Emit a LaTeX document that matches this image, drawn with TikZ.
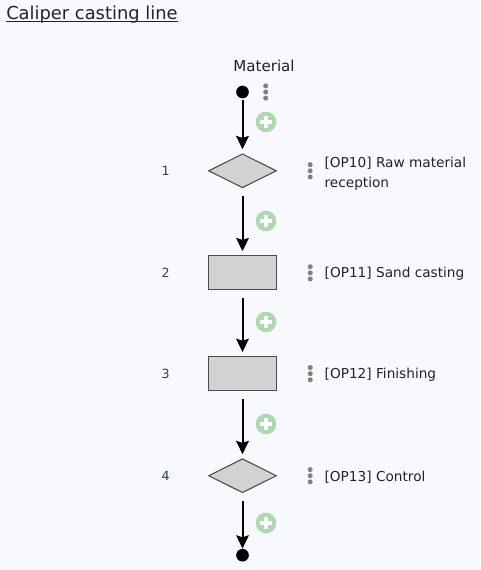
\documentclass[tikz,border=0pt]{standalone}
\usepackage{fontspec}
\usepackage{xcolor}
\setmainfont{DejaVu Sans}
\usetikzlibrary{arrows.meta, positioning, shapes.geometric}
\definecolor{pagebg}{RGB}{248,249,255}
\definecolor{opgray}{RGB}{210,210,210}
\definecolor{opedge}{RGB}{75,75,75}
\definecolor{addgreen}{RGB}{176,216,176}
\definecolor{menugray}{RGB}{130,130,130}
\definecolor{numcolor}{RGB}{50,60,80}
\definecolor{txtcolor}{RGB}{30,35,45}

\begin{document}
\begin{tikzpicture}[x=0.75pt, y=-0.75pt,
    opdiamond/.style={diamond, aspect=2, draw=opedge, fill=opgray, line width=0.8pt,
                  minimum width=51pt, minimum height=25.5pt, inner sep=0pt},
    oprect/.style={rectangle, draw=opedge, fill=opgray, line width=0.9pt,
                  minimum width=51pt, minimum height=25.5pt, inner sep=0pt},
    enddot/.style={circle, fill=black, minimum size=9.5pt, inner sep=0pt},
    flow/.style={-{Stealth[length=10pt, width=9.5pt, inset=1.5pt]}, line width=1.5pt, black, shorten <=6pt, shorten >=3pt},
    oplabel/.style={font=\fontsize{10.25pt}{15pt}\selectfont, text=txtcolor, align=left, inner sep=0pt},
    opnum/.style={font=\fontsize{9.5pt}{11pt}\selectfont, text=numcolor, inner sep=0pt},
    menu/.style={minimum width=4.5pt, minimum height=14pt, inner sep=0pt,
                  path picture={
                    \fill[menugray] ([yshift=4.6pt]path picture bounding box.center) circle (1.9pt);
                    \fill[menugray] (path picture bounding box.center) circle (1.9pt);
                    \fill[menugray] ([yshift=-4.6pt]path picture bounding box.center) circle (1.9pt);}},
    addbtn/.style={circle, fill=addgreen, minimum size=15.5pt, inner sep=0pt,
                  path picture={
                    \draw[white, line width=2.3pt] ([xshift=-4.6pt]path picture bounding box.center) -- ([xshift=4.6pt]path picture bounding box.center);
                    \draw[white, line width=2.3pt] ([yshift=-4.6pt]path picture bounding box.center) -- ([yshift=4.6pt]path picture bounding box.center);}}
]
\fill[pagebg] (0,0) rectangle (480,570);
\useasboundingbox (0,0) rectangle (480,570);

\node[anchor=base west, inner sep=0pt, text=txtcolor, font=\fontsize{13.4pt}{16pt}\selectfont] (title) at (6,20) {Caliper casting line};
\draw[txtcolor, line width=0.9pt] ([yshift=-1.2pt]title.base west) -- ([yshift=-1.2pt]title.base east);

% main line
\node[enddot] (start) at (242.5,92) {};
\node[opdiamond, below=41pt of start] (op1) {};
\node[oprect, below=50.2pt of op1] (op2) {};
\node[oprect, below=49.2pt of op2] (op3) {};
\node[opdiamond, below=50.2pt of op3] (op4) {};
\node[enddot, below=41.5pt of op4] (stop) {};

\node[oplabel, font=\fontsize{11.3pt}{15pt}\selectfont] (material) at (264,66) {Material};
\node[opnum, left=28.5pt of op1] (num1) {1};
\node[opnum, left=28.5pt of op2] (num2) {2};
\node[opnum, left=28.5pt of op3] (num3) {3};
\node[opnum, left=28.5pt of op4] (num4) {4};

\node[menu, right=10pt of start] (menu0) {};
\node[menu, right=22.4pt of op1] (menu1) {};
\node[menu, right=22.4pt of op2] (menu2) {};
\node[menu, right=22.4pt of op3] (menu3) {};
\node[menu, right=22.4pt of op4] (menu4) {};

\node[oplabel, right=8.2pt of menu1, yshift=-2pt] (text1) {[OP10] Raw material\\reception};
\node[oplabel, right=8.2pt of menu2, yshift=-1pt] (text2) {[OP11] Sand casting};
\node[oplabel, right=8.2pt of menu3, yshift=-1pt] (text3) {[OP12] Finishing};
\node[oplabel, right=8.2pt of menu4, yshift=-1pt] (text4) {[OP13] Control};

\draw[flow, shorten <=1pt] (start) -- (op1);
\draw[flow] (op1) -- (op2);
\draw[flow] (op2) -- (op3);
\draw[flow] (op3) -- (op4);
\draw[flow, shorten >=0pt] (op4) -- (stop);

\node[addbtn] (add1) at (266,122) {};
\node[addbtn] (add2) at (266,221) {};
\node[addbtn] (add3) at (266,322) {};
\node[addbtn] (add4) at (266,424) {};
\node[addbtn] (add5) at (266,523) {};
\end{tikzpicture}
\end{document}
